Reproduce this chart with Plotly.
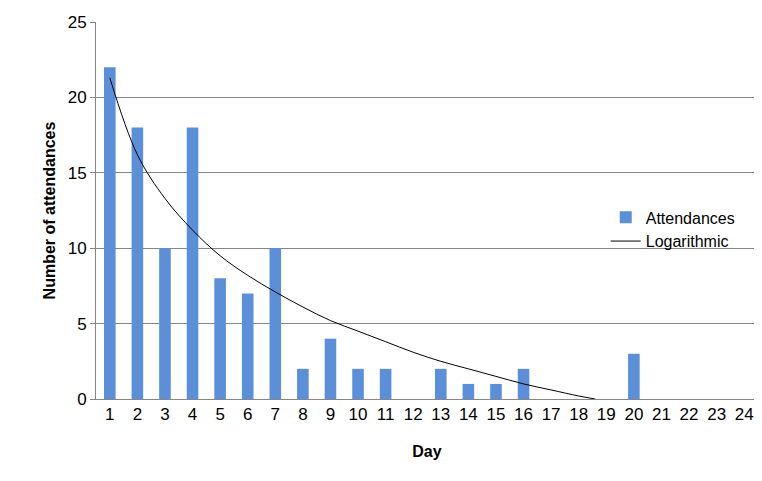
import plotly.graph_objects as go

days = list(range(1, 25))
attendances = [22, 18, 10, 18, 8, 7, 10, 2, 4, 2, 2, 0, 2, 1, 1, 2, 0, 0, 0, 3, 0, 0, 0, 0]

# trend line values
trend_x = [1, 2, 3, 4, 5, 6, 7, 8, 9, 10, 11, 12, 13, 14, 15, 16, 17, 18, 18.6]
trend_y = [21.3, 16.2, 13.3, 11.2, 9.5, 8.2, 7.1, 6.1, 5.2, 4.5, 3.8, 3.1, 2.5, 2.0, 1.5, 1.0, 0.6, 0.2, 0.0]

fig = go.Figure()
fig.add_trace(go.Bar(x=days, y=attendances, name='Attendances', width=0.42,
                     marker=dict(color='#5b8fd8', line=dict(width=0))))
fig.add_trace(go.Scatter(x=trend_x, y=trend_y, name='Logarithmic', mode='lines',
                         line=dict(color='black', width=1, shape='spline')))

fig.update_layout(
    width=762, height=481, template='none',
    paper_bgcolor='white', plot_bgcolor='white',
    font=dict(family='Liberation Sans, Arial', size=17, color='black'),
    margin=dict(l=88, r=12, t=14, b=90),
    bargap=0.5,
    legend=dict(x=0.77, y=0.45, xanchor='left', yanchor='middle',
                bgcolor='rgba(0,0,0,0)', font=dict(size=16), tracegroupgap=20),
)
fig.update_xaxes(range=[0.5, 24.5], tickmode='array', tickvals=days, ticks='',
                 showgrid=False, showline=True, linecolor='#868686', linewidth=1,
                 title=dict(text='<b>Day</b>', font=dict(size=16)), zeroline=False)
fig.update_yaxes(range=[0, 25], dtick=5, showgrid=True, gridcolor='#868686', gridwidth=1,
                 showline=True, linecolor='#868686', ticks='outside', ticklen=5,
                 tickcolor='#868686', zeroline=False,
                 title=dict(text='<b>Number of attendances</b>', font=dict(size=16), standoff=8))

fig.write_html('out.html')
